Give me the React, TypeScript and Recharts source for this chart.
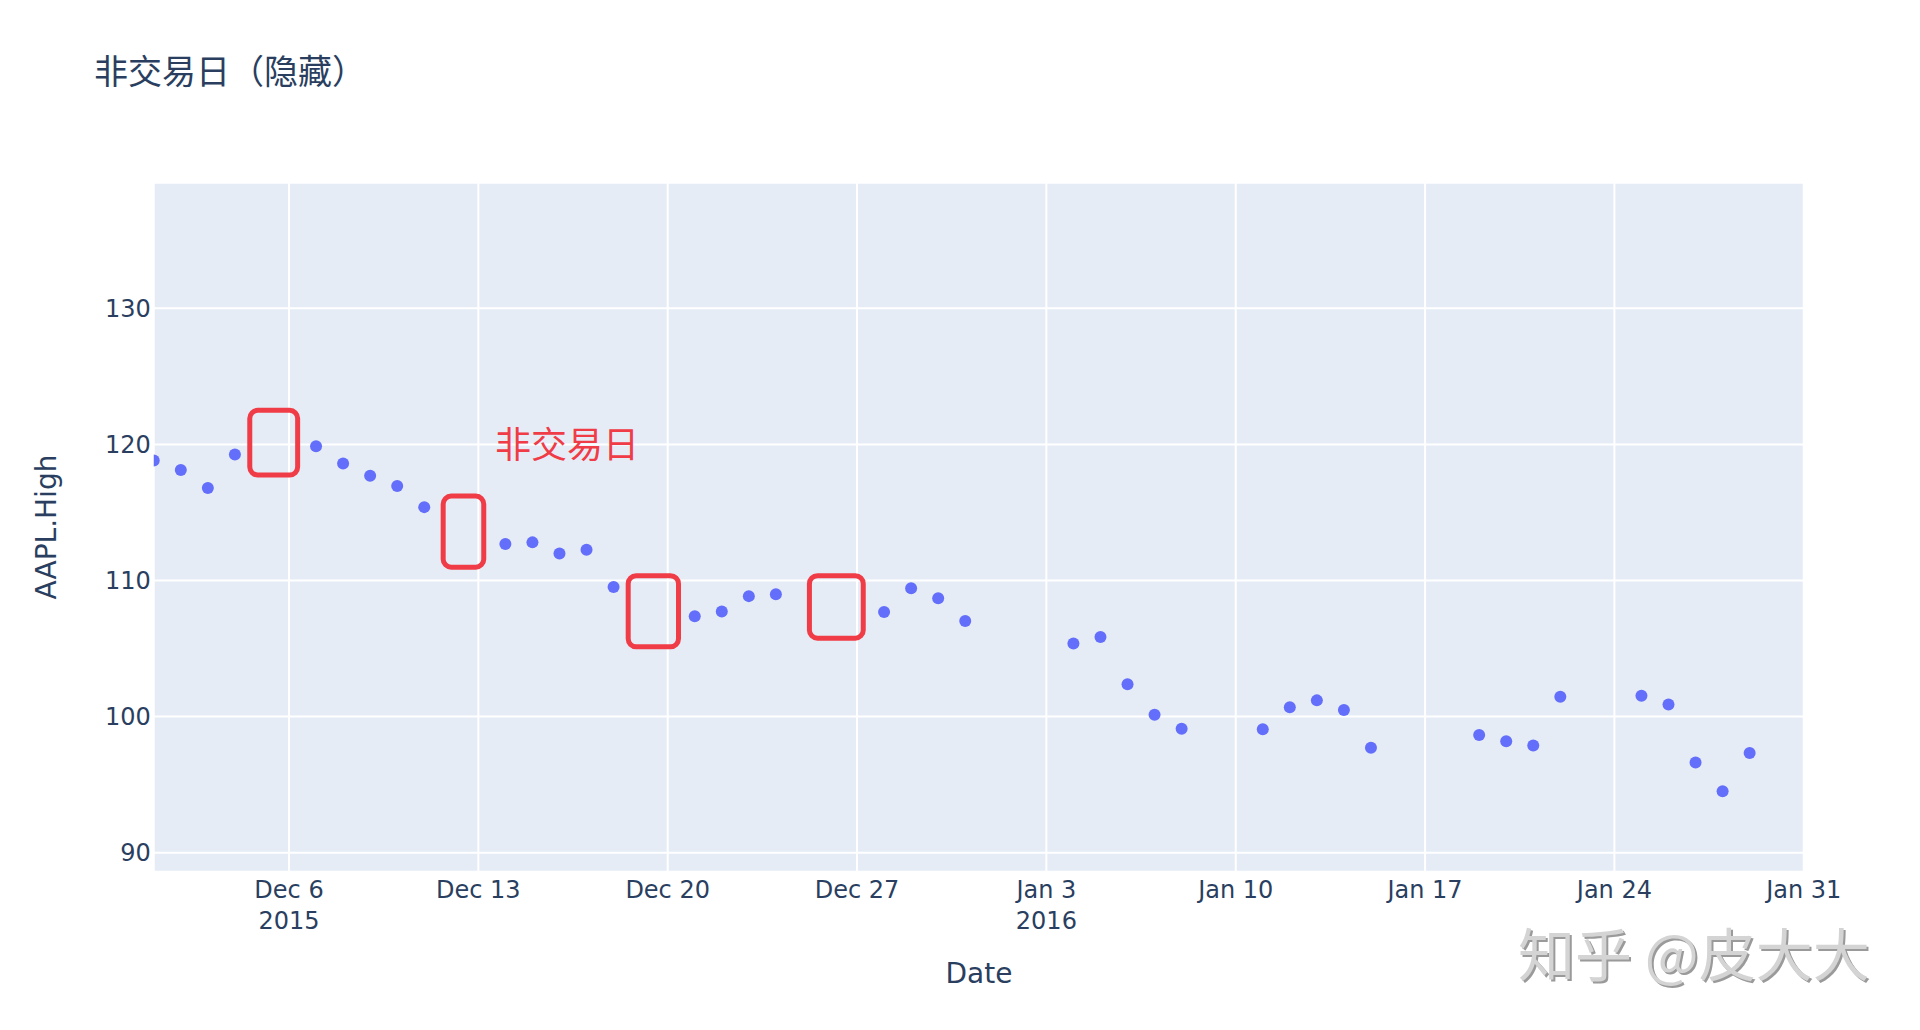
import React from 'react';
import {
  CartesianGrid,
  ReferenceArea,
  Scatter,
  ScatterChart,
  XAxis,
  YAxis,
} from 'recharts';

const FONT = '"DejaVu Sans", "Noto Sans CJK SC", sans-serif';
const CJK_FONT = '"Noto Sans CJK SC", "Open Sans", sans-serif';
const INK = '#2a3f5f';
const MARKER = '#636efa';
const BOX_RED = '#f03c46';

// AAPL.High, trading days Dec 2015 – Jan 2016
const dates = [
  '2015-12-01', '2015-12-02', '2015-12-03', '2015-12-04',
  '2015-12-07', '2015-12-08', '2015-12-09', '2015-12-10', '2015-12-11',
  '2015-12-14', '2015-12-15', '2015-12-16', '2015-12-17', '2015-12-18',
  '2015-12-21', '2015-12-22', '2015-12-23', '2015-12-24',
  '2015-12-28', '2015-12-29', '2015-12-30', '2015-12-31',
  '2016-01-04', '2016-01-05', '2016-01-06', '2016-01-07', '2016-01-08',
  '2016-01-11', '2016-01-12', '2016-01-13', '2016-01-14', '2016-01-15',
  '2016-01-19', '2016-01-20', '2016-01-21', '2016-01-22',
  '2016-01-25', '2016-01-26', '2016-01-27', '2016-01-28', '2016-01-29',
];

const highs = [
  118.81, 118.11, 116.79, 119.25,
  119.86, 118.6, 117.69, 116.94, 115.39,
  112.68, 112.8, 111.99, 112.25, 109.52,
  107.37, 107.72, 108.85, 108.99,
  107.69, 109.43, 108.7, 107.03,
  105.37, 105.85, 102.37, 100.13, 99.11,
  99.06, 100.69, 101.19, 100.48, 97.71,
  98.65, 98.19, 97.88, 101.46,
  101.53, 100.88, 96.63, 94.52, 97.33,
];

const xRange = ['2015-12-01', '2016-01-31'];
const yRange = [88.6, 139.23];
const yTicks = [90, 100, 110, 120, 130];
const xTickDates = [
  '2015-12-06', '2015-12-13', '2015-12-20', '2015-12-27',
  '2016-01-03', '2016-01-10', '2016-01-17', '2016-01-24', '2016-01-31',
];
const yearTicks = ['2015-12-06', '2016-01-03'];

// hand-drawn highlight boxes over the weekend gaps: [days after Dec 1 from, to, top, bottom]
const gapBoxes: [number, number, number, number][] = [
  [3.55, 5.32, 122.5, 117.75],
  [10.7, 12.2, 116.2, 110.98],
  [17.54, 19.4, 110.35, 105.13],
  [24.24, 26.23, 110.35, 105.76],
];

const MONTHS = ['Jan', 'Feb', 'Mar', 'Apr', 'May', 'Jun', 'Jul', 'Aug', 'Sep', 'Oct', 'Nov', 'Dec'];
const DAY = 86400000;

const ts = (d: string) => {
  const [y, m, dd] = d.split('-').map(Number);
  return Date.UTC(y, m - 1, dd);
};

const data = dates.map((d, i) => ({ t: ts(d), high: highs[i] }));
const xTicks = xTickDates.map(ts);
const yearSet = new Set(yearTicks.map(ts));
const t0 = ts(xRange[0]);

function DateTick(props: any) {
  const { x, y, payload } = props;
  const d = new Date(payload.value);
  const label = `${MONTHS[d.getUTCMonth()]} ${d.getUTCDate()}`;
  return (
    <g>
      <text x={x} y={y + 18} textAnchor="middle" dominantBaseline="central" fill={INK} fontSize={24} fontFamily={FONT}>
        {label}
      </text>
      {yearSet.has(payload.value) && (
        <text x={x} y={y + 49} textAnchor="middle" dominantBaseline="central" fill={INK} fontSize={24} fontFamily={FONT}>
          {d.getUTCFullYear()}
        </text>
      )}
    </g>
  );
}

const Dot = (props: any) => <circle cx={props.cx} cy={props.cy} r={6} fill={MARKER} />;

const RoundBox = (props: any) => (
  <rect
    x={props.x}
    y={props.y}
    width={props.width}
    height={props.height}
    rx={8}
    ry={8}
    fill="none"
    stroke={BOX_RED}
    strokeWidth={5}
  />
);

export default function App() {
  return (
    <div style={{ position: 'relative', width: 1904, height: 1014, fontFamily: FONT, background: '#fff' }}>
      <ScatterChart
        width={1904}
        height={1014}
        margin={{ top: 174.7, right: 108.25, bottom: 90.3, left: 85.75 }}
      >
        <CartesianGrid fill="#E5ECF6" fillOpacity={1} stroke="#ffffff" strokeWidth={2} />
        <XAxis
          type="number"
          dataKey="t"
          domain={[ts(xRange[0]), ts(xRange[1])]}
          ticks={xTicks}
          allowDataOverflow
          height={60}
          tickLine={false}
          axisLine={false}
          tickSize={0}
          tickMargin={0}
          tick={<DateTick />}
        />
        <YAxis
          type="number"
          dataKey="high"
          domain={yRange}
          ticks={yTicks}
          allowDataOverflow
          width={60}
          tickLine={false}
          axisLine={false}
          tickSize={0}
          tickMargin={3}
          tick={{ fill: INK, fontSize: 24, fontFamily: FONT }}
        />
        {gapBoxes.map(([a, b, top, bottom], i) => (
          <ReferenceArea
            key={i}
            x1={t0 + a * DAY}
            x2={t0 + b * DAY}
            y1={bottom}
            y2={top}
            shape={<RoundBox />}
          />
        ))}
        <Scatter data={data} shape={<Dot />} isAnimationActive={false} />
      </ScatterChart>

      <div style={{ position: 'absolute', left: 86, top: 45, fontSize: 34, lineHeight: '34px', color: INK, whiteSpace: 'nowrap', fontFamily: CJK_FONT }}>
        非交易日（隐藏）
      </div>
      <div style={{ position: 'absolute', left: 487, top: 416, fontSize: 36, lineHeight: '36px', color: BOX_RED, whiteSpace: 'nowrap', fontFamily: CJK_FONT }}>
        非交易日
      </div>
      <div
        style={{
          position: 'absolute',
          left: 38,
          top: 519,
          fontSize: 28,
          color: INK,
          whiteSpace: 'nowrap',
          transform: 'translate(-50%, -50%) rotate(-90deg)',
        }}
      >
        AAPL.High
      </div>
      <div
        style={{
          position: 'absolute',
          left: 971,
          top: 965,
          fontSize: 28,
          color: INK,
          whiteSpace: 'nowrap',
          transform: 'translate(-50%, -50%)',
        }}
      >
        Date
      </div>
      <div
        style={{
          position: 'absolute',
          left: 1510,
          top: 915,
          fontSize: 57,
          lineHeight: '57px',
          color: '#d4d4d4',
          whiteSpace: 'nowrap',
          fontFamily: CJK_FONT,
          textShadow: '2px 2px 0 #9a9a9a',
        }}
      >
        知乎 @皮大大
      </div>
    </div>
  );
}
